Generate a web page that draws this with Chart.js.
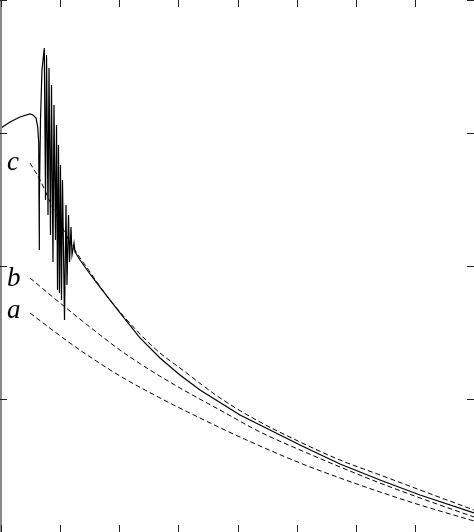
<!DOCTYPE html>
<html>
<head>
<meta charset="utf-8">
<script src="https://cdn.jsdelivr.net/npm/chart.js@4/dist/chart.umd.min.js"></script>
<style>
  html, body { margin: 0; padding: 0; background: #fff; }
  #wrap { width: 474px; height: 532px; }
</style>
</head>
<body>
<div id="wrap"><canvas id="chart" width="474" height="532"></canvas></div>
<script>
// x runs 0..8, y runs 0..4 (one unit per tick)
var xTicks = [0, 1, 2, 3, 4, 5, 6, 7, 8];
var yTicks = [0, 1, 2, 3, 4];

// solid curve: hump, sharp drop, fast oscillation, then smooth decay
var solidX = [0, 0.152, 0.321, 0.490, 0.541, 0.592, 0.621, 0.638, 0.643, 0.646,
  0.651, 0.668, 0.693, 0.732,
  0.753, 0.770, 0.795, 0.812, 0.837, 0.854, 0.879, 0.896, 0.922, 0.939,
  0.956, 0.972, 0.989, 1.006, 1.023, 1.040, 1.074, 1.099, 1.116, 1.142,
  1.159, 1.184, 1.201, 1.235, 1.252, 1.285,
  1.336, 1.505, 1.674, 2.013, 2.351, 2.689, 3.027, 3.366, 4.042, 4.719,
  5.057, 5.734, 6.410, 7.087, 8.0];
var solidY = [3.038, 3.083, 3.120, 3.143, 3.135, 3.113, 3.045, 2.925, 2.496, 2.120,
  2.496, 3.098, 3.474, 3.639,
  2.496, 3.586, 2.383, 3.489, 2.233, 3.361, 2.030, 3.211, 2.195, 3.060,
  1.820, 2.910, 1.797, 2.759, 1.744, 2.647, 1.594, 2.459, 1.857, 2.383,
  2.030, 2.293, 2.083, 2.173, 2.105, 2.083,
  2.045, 1.940, 1.842, 1.647, 1.459, 1.308, 1.180, 1.068, 0.880, 0.729,
  0.654, 0.511, 0.391, 0.278, 0.143];

// dashed curves a, b, c
var cX = [0.490, 0.660, 0.863, 1.167, 1.505, 1.844, 2.351, 2.689, 3.027, 3.704, 4.381, 5.057, 5.734, 6.410, 7.087, 8.0];
var cY = [2.774, 2.647, 2.451, 2.180, 1.955, 1.744, 1.489, 1.346, 1.233, 1.008, 0.827, 0.677, 0.541, 0.429, 0.316, 0.165];

var bX = [0.490, 0.998, 1.505, 2.013, 2.520, 3.027, 3.704, 4.381, 5.057, 5.734, 6.410, 7.087, 8.0];
var bY = [1.910, 1.722, 1.541, 1.368, 1.218, 1.083, 0.917, 0.752, 0.617, 0.489, 0.368, 0.256, 0.113];

var aX = [0.490, 0.913, 1.336, 2.013, 2.689, 3.366, 4.042, 5.057, 5.734, 6.410, 7.087, 8.0];
var aY = [1.647, 1.504, 1.368, 1.173, 1.008, 0.857, 0.714, 0.519, 0.406, 0.301, 0.203, 0.083];

// curve labels, placed at data positions
var labelText = ['c', 'b', 'a'];
var labelX = [0.1, 0.1, 0.1];
var labelY = [2.72, 1.85, 1.61];

function pts(xs, ys) {
  var out = [];
  for (var i = 0; i < xs.length; i++) out.push({x: xs[i], y: ys[i]});
  return out;
}

// inward ticks, left border and letters
var frame = {
  id: 'frame',
  afterDraw: function(chart) {
    var ctx = chart.ctx;
    var xs = chart.scales.x, ys = chart.scales.y;
    var W = chart.width, H = chart.height;
    ctx.save();
    ctx.strokeStyle = '#8a8a8a';
    ctx.lineWidth = 2;
    ctx.beginPath();
    ctx.moveTo(1, 0); ctx.lineTo(1, H);
    ctx.stroke();

    ctx.strokeStyle = '#222';
    ctx.lineWidth = 1;
    ctx.beginPath();
    xTicks.forEach(function(v) {
      var p = Math.round(xs.getPixelForValue(v)) + 0.5;
      ctx.moveTo(p, 0); ctx.lineTo(p, 7);
      ctx.moveTo(p, H); ctx.lineTo(p, H - 7);
    });
    yTicks.forEach(function(v) {
      var p = Math.round(ys.getPixelForValue(v)) + 0.5;
      ctx.moveTo(0, p); ctx.lineTo(7, p);
      ctx.moveTo(W, p); ctx.lineTo(W - 7, p);
    });
    ctx.stroke();

    ctx.fillStyle = '#000';
    ctx.font = 'italic 27px "Liberation Serif", "DejaVu Serif", serif';
    ctx.textBaseline = 'alphabetic';
    for (var i = 0; i < labelText.length; i++) {
      ctx.fillText(labelText[i], xs.getPixelForValue(labelX[i]), ys.getPixelForValue(labelY[i]));
    }
    ctx.restore();
  }
};

var dashStyle = {
  borderColor: '#000', borderWidth: 1, borderDash: [5, 3],
  pointRadius: 0, fill: false, cubicInterpolationMode: 'monotone'
};

new Chart(document.getElementById('chart'), {
  type: 'line',
  data: {
    datasets: [
      {data: pts(solidX, solidY), borderColor: '#000', borderWidth: 1.2,
       pointRadius: 0, fill: false, tension: 0},
      Object.assign({data: pts(cX, cY)}, dashStyle),
      Object.assign({data: pts(bX, bY)}, dashStyle),
      Object.assign({data: pts(aX, aY)}, dashStyle)
    ]
  },
  options: {
    responsive: false,
    animation: false,
    layout: {padding: {left: 1, right: 0, top: 0, bottom: 0}},
    plugins: {legend: {display: false}, tooltip: {enabled: false}},
    scales: {
      x: {type: 'linear', min: 0, max: 8, display: false},
      y: {type: 'linear', min: 0, max: 4, display: false}
    }
  },
  plugins: [frame]
});
</script>
</body>
</html>
